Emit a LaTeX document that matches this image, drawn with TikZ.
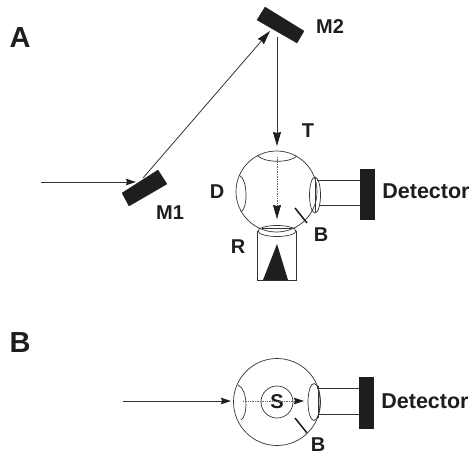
\documentclass[tikz,border=0pt]{standalone}
\usepackage{fontspec}
\setmainfont{Liberation Sans}
\usetikzlibrary{arrows.meta,shapes.geometric}
\definecolor{ink}{HTML}{1E1E1E}
\definecolor{beam}{HTML}{333333}
\tikzset{
  every node/.style={inner sep=0pt,text=ink,font=\bfseries},
  panel/.style={font=\fontsize{29}{29}\selectfont\bfseries},
  lbl/.style={font=\fontsize{20}{20}\selectfont\bfseries},
  wide lbl/.style={font=\fontsize{21.5}{22}\selectfont\bfseries},
  part/.style={draw=beam,line width=0.7pt},
  beamline/.style={draw=beam,line width=0.8pt},
  faint/.style={draw=beam!75,line width=0.7pt,densely dotted},
  tipped/.style={-{Stealth[length=14pt,width=8pt,inset=1pt,color=ink]}},
  small tip/.style={-{Stealth[length=10pt,width=6.5pt,inset=1pt,color=ink]}},
  block/.style={fill=ink,draw=ink,line width=0.3pt},
  baffle/.style={draw=ink,line width=1.5pt}
}
\begin{document}
\begin{tikzpicture}[x=1pt,y=-1pt]
\useasboundingbox (0,0) rectangle (474,474);
% labels
\node[panel] (lA) at (20,38) {A};
\node[panel] (lB) at (20,343) {B};
\node[lbl] (lM1) at (170,213) {M1};
\node[lbl] (lM2) at (330,27) {M2};
\node[lbl] (lT) at (308,131) {T};
\node[lbl] (lD) at (217,192) {D};
\node[lbl] (lR) at (238,247) {R};
\node[lbl] (lBa) at (321,235) {B};
\node[wide lbl] (lDa) at (426,191) {Detector};
\node[lbl] (lS) at (277,402) {S};
\node[lbl] (lBb) at (318,445) {B};
\node[wide lbl] (lDb) at (425,401) {Detector};
% mirrors
\fill[block] (122,193) -- (158,170) -- (167,184) -- (129,206) -- cycle;
\fill[block] (265,7) -- (304,31) -- (297,43) -- (257,20) -- cycle;
\coordinate (in) at (41,182);
\coordinate (m1in) at (136,182);
\coordinate (m1out) at (143,178);
\coordinate (m2in) at (270,31);
\coordinate (m2out) at (277,37);
\coordinate (top) at (277,146);
% sphere A
\node[circle,part,minimum size=81pt] (sa) at (276.5,191.5) {};
\draw[part] (258,156) .. controls (265,163) and (290,163) .. (297,156);
\draw[part] (239,175) .. controls (248,179) and (248,208) .. (241,212);
\node[ellipse,part,minimum width=11pt,minimum height=36pt] (ra) at (315,195) {};
\draw[part] (315,178) -- (315,212);
\node[ellipse,part,minimum width=38pt,minimum height=11pt] (la) at (277,231) {};
\draw[part] (262,228) -- (292,228);
\draw[baffle] (295,208) -- (307,223);
% R box
\draw[part] (257,231) -- (257,280) -- (296,280) -- (296,231);
\fill[ink] (277,244) -- (263,280) -- (288,280) -- cycle;
% detector A
\fill[block] (360,169) rectangle (374,219);
\coordinate (da1) at (360,180); \coordinate (da2) at (360,205);
\coordinate (sa1) at (317,180); \coordinate (sa2) at (319,205);
\draw[part] (sa1) -- (da1);
\draw[part] (sa2) -- (da2);
% beams A
\coordinate (dotS) at (277,157); \coordinate (dotE) at (277,219);
\draw[beamline,small tip] (in) -- (m1in);
\draw[beamline,tipped] (m1out) -- (m2in);
\draw[beamline,tipped] (m2out) -- (top);
\draw[faint,tipped] (dotS) -- (dotE);
% sphere B
\node[circle,part,minimum size=87pt] (sb) at (277,402) {};
\node[circle,part,minimum size=32pt] (sc) at (277,402) {};
\draw[part] (238,385) .. controls (248,389) and (248,416) .. (241,420);
\node[ellipse,part,minimum width=12pt,minimum height=37pt] (rb) at (314,402) {};
\draw[part] (318,386) -- (318,418);
\draw[baffle] (295,418) -- (307,433);
% detector B
\fill[block] (359,377) rectangle (373,428);
\coordinate (db1) at (359,388); \coordinate (db2) at (359,414);
\coordinate (sb1) at (317,388); \coordinate (sb2) at (319,414);
\draw[part] (sb1) -- (db1);
\draw[part] (sb2) -- (db2);
% beams B
\coordinate (inb) at (123,401); \coordinate (inbE) at (231,401);
\coordinate (midS) at (243,401); \coordinate (midE) at (304,401);
\draw[beamline,small tip] (inb) -- (inbE);
\draw[faint,small tip] (midS) -- (midE);
\end{tikzpicture}
\end{document}
